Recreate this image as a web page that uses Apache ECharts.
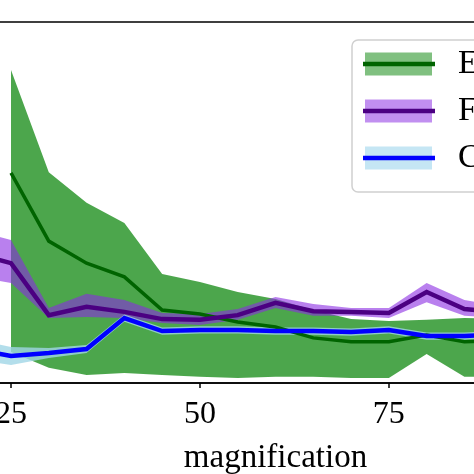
<!DOCTYPE html>
<html>
<head>
<meta charset="utf-8">
<script src="https://cdn.jsdelivr.net/npm/echarts@6/dist/echarts.min.js"></script>
<style>
    html, body { margin: 0; padding: 0; background: #fff; overflow: hidden; }
    #wrap { position: relative; width: 474px; height: 474px; overflow: hidden; }
    /* plot box is wider than the window: left and right spines fall outside */
    #chart { position: absolute; left: -57px; top: 0; width: 665px; height: 474px; }
</style>
</head>
<body>
<div id="wrap"><div id="chart"></div></div>
<script>
// magnification values (x)
var magE = [25, 30, 35, 40, 45, 50, 55, 60, 65, 70, 75, 80, 85, 90, 95, 100];
var magFC = [20, 25, 30, 35, 40, 45, 50, 55, 60, 65, 70, 75, 80, 85, 90, 95, 100];

// E: mean and band
var eMean  = [0.582, 0.393, 0.332, 0.294, 0.202, 0.191, 0.169, 0.155, 0.125, 0.114, 0.114, 0.133, 0.114, 0.118, 0.115, 0.117];
var eUpper = [0.867, 0.584, 0.499, 0.443, 0.302, 0.280, 0.252, 0.233, 0.202, 0.177, 0.172, 0.175, 0.180, 0.178, 0.176, 0.177];
var eLower = [0.086, 0.042, 0.022, 0.028, 0.022, 0.017, 0.014, 0.017, 0.017, 0.014, 0.014, 0.080, 0.017, 0.017, 0.020, 0.018];

// F: mean and band
var fMean  = [0.360, 0.332, 0.188, 0.211, 0.197, 0.177, 0.175, 0.188, 0.222, 0.199, 0.197, 0.194, 0.252, 0.205, 0.195, 0.200, 0.198];
var fUpper = [0.424, 0.396, 0.208, 0.247, 0.230, 0.194, 0.191, 0.205, 0.238, 0.219, 0.208, 0.208, 0.277, 0.230, 0.212, 0.218, 0.215];
var fLower = [0.296, 0.277, 0.180, 0.183, 0.180, 0.166, 0.161, 0.175, 0.208, 0.186, 0.186, 0.180, 0.224, 0.186, 0.180, 0.184, 0.182];

// C: mean and band
var cMean  = [0.094, 0.075, 0.083, 0.094, 0.180, 0.144, 0.147, 0.147, 0.144, 0.144, 0.141, 0.147, 0.130, 0.130, 0.135, 0.133, 0.134];
var cUpper = [0.122, 0.100, 0.097, 0.105, 0.190, 0.154, 0.157, 0.157, 0.154, 0.154, 0.151, 0.157, 0.140, 0.140, 0.145, 0.143, 0.144];
var cLower = [0.066, 0.050, 0.069, 0.083, 0.170, 0.134, 0.137, 0.137, 0.134, 0.134, 0.131, 0.137, 0.120, 0.120, 0.125, 0.123, 0.124];

var xTicks = [25, 50, 75, 100];
var legendNames = ['E', 'F', 'C'];

var serif = '"Liberation Serif", "DejaVu Serif", serif';

function pairs(xs, ys) {
    return xs.map(function (x, i) { return [x, ys[i]]; });
}

// band as one polygon: upper edge forward, lower edge backward
function band(name, xs, lower, upper, fill) {
    return {
        name: name + '_band', type: 'custom', silent: true, animation: false,
        data: pairs(xs, upper),
        renderItem: function (params, api) {
            if (params.dataIndex !== 0) return;
            var pts = [];
            for (var i = 0; i < xs.length; i++) pts.push(api.coord([xs[i], upper[i]]));
            for (var j = xs.length - 1; j >= 0; j--) pts.push(api.coord([xs[j], lower[j]]));
            return { type: 'polygon', shape: { points: pts }, style: { fill: fill } };
        }
    };
}

function meanLine(name, xs, ys, color, width) {
    return {
        name: name, type: 'line', data: pairs(xs, ys), symbol: 'none',
        lineStyle: { color: color, width: width, join: 'miter' }, animation: false
    };
}

var series = [
    band('E', magE, eLower, eUpper, 'rgba(0,128,0,0.7)'),
    meanLine('E', magE, eMean, '#006400', 3.5),
    band('F', magFC, fLower, fUpper, 'rgba(138,43,226,0.6)'),
    meanLine('F', magFC, fMean, '#4b0082', 4.5),
    band('C', magFC, cLower, cUpper, 'rgba(160,214,230,0.8)'),
    meanLine('C', magFC, cMean, '#0000ff', 4.5)
];

// legend drawn by hand: band patch + line + label (chart div is shifted 57px left)
var legendColors = [
    { patch: '#80c080', line: '#006400' },
    { patch: '#c18ff0', line: '#4b0082' },
    { patch: '#c5e6f4', line: '#0000ff' }
];
var lx = 57;
var legendItems = [];
legendNames.forEach(function (n, i) {
    var cy = 64 + i * 47;
    legendItems.push({
        type: 'rect', shape: { x: lx + 365, y: cy - 11.5, width: 67, height: 23 },
        style: { fill: legendColors[i].patch }
    });
    legendItems.push({
        type: 'line', shape: { x1: lx + 363, y1: cy, x2: lx + 435, y2: cy },
        style: { stroke: legendColors[i].line, lineWidth: 4.5 }
    });
    legendItems.push({
        type: 'text', x: lx + 458, y: cy,
        style: { text: n, fill: '#000', font: '34px ' + serif, verticalAlign: 'middle' }
    });
});

var dom = document.getElementById('chart');
var myChart = echarts.init(dom, null, { renderer: 'canvas' });

var option = {
    backgroundColor: '#ffffff',
    animation: false,
    grid: {
        left: 0, right: 0, top: 22, bottom: 91,
        outerBoundsMode: 'none', containLabel: false,
        show: true, borderColor: '#000', borderWidth: 1.5, backgroundColor: 'transparent'
    },
    xAxis: {
        type: 'value', min: 16, max: 104,
        name: 'magnification', nameLocation: 'middle', nameGap: 59,
        nameTextStyle: { fontFamily: serif, fontSize: 33, color: '#000' },
        axisLine: { show: true, lineStyle: { color: '#000', width: 1.5 } },
        axisTick: { show: true, length: 5, customValues: xTicks, lineStyle: { color: '#000', width: 1.5 } },
        axisLabel: { customValues: xTicks, fontFamily: serif, fontSize: 32, color: '#000', margin: 16 },
        splitLine: { show: false }
    },
    yAxis: {
        type: 'value', min: 0, max: 1,
        axisLine: { show: false }, axisTick: { show: false },
        axisLabel: { show: false }, splitLine: { show: false }
    },
    series: series,
    graphic: [
        {
            type: 'rect', shape: { x: lx + 352, y: 40, width: 200, height: 152, r: 6 },
            style: { fill: 'rgba(255,255,255,0.8)', stroke: '#d0d0d0', lineWidth: 1.5 }
        }
    ].concat(legendItems)
};

if (option && typeof option === 'object') {
    myChart.setOption(option, true);
}
</script>
</body>
</html>
